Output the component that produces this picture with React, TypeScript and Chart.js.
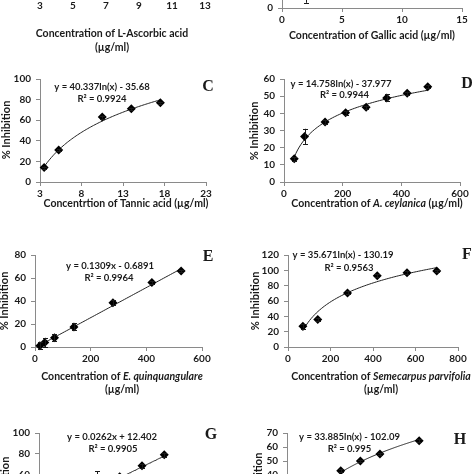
import React, { useEffect, useRef } from "react";
import { Chart, registerables } from "chart.js";

Chart.register(...registerables);

const SANS = "Lato, 'Noto Sans', sans-serif";
const SERIF = "'Liberation Serif', 'DejaVu Serif', serif";
const INK = "#1a1a1a";
const AXIS = "#8a8a8a";

// ---- A: L-ascorbic acid
const ascorbicXTicks = [3, 5, 7, 9, 11, 13];
const ascorbicYTicks = [0, 20, 40, 60, 80, 100];

// ---- B: Gallic acid
const gallicXTicks = [0, 5, 10, 15];
const gallicYTicks = [0, 20, 40, 60, 80, 100];
const gallicConc = [2];
const gallicInhib = [12];
const gallicErr = [7];

// ---- C: Tannic acid
const tannicXTicks = [3, 8, 13, 18, 23];
const tannicYTicks = [0, 20, 40, 60, 80, 100];
const tannicConc = [3.5, 5.25, 10.5, 14, 17.5];
const tannicInhib = [14, 31, 63, 71, 77];
const tannicErr = [1, 1, 1.5, 1, 1];
const tannicFit = { kind: "ln", a: 40.337, b: -35.68, r2: "0.9924" };

// ---- D: A. ceylanica
const ceylanicaXTicks = [0, 200, 400, 600];
const ceylanicaYTicks = [0, 10, 20, 30, 40, 50, 60];
const ceylanicaConc = [35, 70, 140, 210, 280, 350, 420, 490];
const ceylanicaInhib = [13.5, 26.5, 35, 40.3, 43.5, 49, 51.7, 55.5];
const ceylanicaErr = [1, 4.5, 1, 1, 1, 2, 1, 0.8];
const ceylanicaFit = { kind: "ln", a: 14.758, b: -37.977, r2: "0.9944" };

// ---- E: E. quinquangulare
const quinqXTicks = [0, 200, 400, 600];
const quinqYTicks = [0, 20, 40, 60, 80];
const quinqConc = [17.5, 35, 70, 140, 280, 420, 525];
const quinqInhib = [1, 4, 8, 17.5, 38.5, 56, 66];
const quinqErr = [3, 4, 3, 3, 2, 1, 1];
const quinqFit = { kind: "lin", a: 0.1309, b: -0.6891, r2: "0.9964" };

// ---- F: Semecarpus parvifolia
const semeXTicks = [0, 200, 400, 600, 800];
const semeYTicks = [0, 20, 40, 60, 80, 100, 120];
const semeConc = [70, 140, 280, 420, 560, 700];
const semeInhib = [27, 36, 70.5, 93, 97, 99];
const semeErr = [3, 2, 2, 2, 1.5, 1.5];
const semeFit = { kind: "ln", a: 35.671, b: -130.19, r2: "0.9563" };

// ---- G
const gXTicks = [500, 1500, 2500];
const gYTicks = [0, 20, 40, 60, 80, 100];
const gConc = [1300, 1700, 2100, 2500];
const gInhib = [48, 58, 68.5, 79];
const gErr = [15, 2, 2, 2];
const gFit = { kind: "lin", a: 0.0262, b: 12.402, r2: "0.9905" };

// ---- H
const hXTicks = [50, 100, 150];
const hYTicks = [0, 10, 20, 30, 40, 50, 60, 70];
const hConc = [70, 87.5, 105, 140];
const hInhib = [43, 50, 55, 64.5];
const hErr = [1, 1, 1, 1];
const hFit = { kind: "ln", a: 33.885, b: -102.09, r2: "0.995" };

type Fit = { kind: string; a: number; b: number; r2: string };
type Seg = { t: string; it?: boolean };
type Txt = { x: number; y: number; segs: Seg[]; style: "title" | "eq" | "letter" | "ytitle" };

interface Panel {
  id: string;
  area: [number, number, number, number]; // left, top, right, bottom (page px)
  xMin: number; xMax: number; xTicks: number[];
  yMin: number; yMax: number; yTicks: number[];
  conc?: number[]; inhib?: number[]; err?: number[];
  fit?: Fit;
  texts: Txt[];
}

const fmtTerm = (v: number) => (v < 0 ? ` - ${-v}` : ` + ${v}`);
const eqText = (f: Fit) =>
  f.kind === "ln" ? `y = ${f.a}ln(x)${fmtTerm(f.b)}` : `y = ${f.a}x${fmtTerm(f.b)}`;
const r2Text = (f: Fit) => `R² = ${f.r2}`;
const T = (x: number, y: number, style: Txt["style"], ...segs: Seg[]): Txt => ({ x, y, style, segs });
const s = (t: string, it = false): Seg => ({ t, it });

const UNIT = "(µg/ml)";
const YT = "% Inhibition";

const panels: Panel[] = [
  {
    id: "A", area: [40, -110, 205, -6],
    xMin: 3, xMax: 13, xTicks: ascorbicXTicks, yMin: 0, yMax: 100, yTicks: ascorbicYTicks,
    texts: [
      T(112, 34, "title", s("Concentration of L-Ascorbic acid")),
      T(112, 48, "title", s(UNIT)),
    ],
  },
  {
    id: "B", area: [282, -96, 462, 8],
    xMin: 0, xMax: 15, xTicks: gallicXTicks, yMin: 0, yMax: 100, yTicks: gallicYTicks,
    conc: gallicConc, inhib: gallicInhib, err: gallicErr,
    texts: [T(372, 36, "title", s("Concentration of Gallic acid " + UNIT))],
  },
  {
    id: "C", area: [40, 79, 206, 182],
    xMin: 3, xMax: 23, xTicks: tannicXTicks, yMin: 0, yMax: 100, yTicks: tannicYTicks,
    conc: tannicConc, inhib: tannicInhib, err: tannicErr, fit: tannicFit,
    texts: [
      T(126, 204, "title", s("Concentrtion of Tannic acid " + UNIT)),
      T(102, 87, "eq", s(eqText(tannicFit))),
      T(102, 99, "eq", s(r2Text(tannicFit))),
      T(208, 87, "letter", s("C")),
      T(6, 130, "ytitle", s(YT)),
    ],
  },
  {
    id: "D", area: [284, 79, 460, 182],
    xMin: 0, xMax: 600, xTicks: ceylanicaXTicks, yMin: 0, yMax: 60, yTicks: ceylanicaYTicks,
    conc: ceylanicaConc, inhib: ceylanicaInhib, err: ceylanicaErr, fit: ceylanicaFit,
    texts: [
      T(377, 204, "title", s("Concentration of "), s("A. ceylanica", true), s(" " + UNIT)),
      T(341, 84, "eq", s(eqText(ceylanicaFit))),
      T(344.5, 95, "eq", s(r2Text(ceylanicaFit))),
      T(467, 84, "letter", s("D")),
      T(254, 131, "ytitle", s(YT)),
    ],
  },
  {
    id: "E", area: [35, 255, 202, 347],
    xMin: 0, xMax: 600, xTicks: quinqXTicks, yMin: 0, yMax: 80, yTicks: quinqYTicks,
    conc: quinqConc, inhib: quinqInhib, err: quinqErr, fit: quinqFit,
    texts: [
      T(122, 377, "title", s("Concentration of "), s("E. quinquangulare", true)),
      T(122, 390, "title", s(UNIT)),
      T(110, 266, "eq", s(eqText(quinqFit))),
      T(109, 278, "eq", s(r2Text(quinqFit))),
      T(208, 257, "letter", s("E")),
      T(4, 301, "ytitle", s(YT)),
    ],
  },
  {
    id: "F", area: [288, 255, 458, 347],
    xMin: 0, xMax: 800, xTicks: semeXTicks, yMin: 0, yMax: 120, yTicks: semeYTicks,
    conc: semeConc, inhib: semeInhib, err: semeErr, fit: semeFit,
    texts: [
      T(381, 377, "title", s("Concentration of "), s("Semecarpus parvifolia", true)),
      T(381, 390, "title", s(UNIT)),
      T(343, 255, "eq", s(eqText(semeFit))),
      T(349, 268, "eq", s(r2Text(semeFit))),
      T(467, 255, "letter", s("F")),
      T(255, 301, "ytitle", s(YT)),
    ],
  },
  {
    id: "G", area: [39, 433, 206, 537],
    xMin: 250, xMax: 3250, xTicks: gXTicks, yMin: 0, yMax: 100, yTicks: gYTicks,
    conc: gConc, inhib: gInhib, err: gErr, fit: gFit,
    texts: [
      T(112, 437, "eq", s(eqText(gFit))),
      T(113, 449, "eq", s(r2Text(gFit))),
      T(211, 435, "letter", s("G")),
      T(5, 486, "ytitle", s(YT)),
    ],
  },
  {
    id: "H", area: [287, 433, 455, 531],
    xMin: 22, xMax: 172, xTicks: hXTicks, yMin: 0, yMax: 70, yTicks: hYTicks,
    conc: hConc, inhib: hInhib, err: hErr, fit: hFit,
    texts: [
      T(349.5, 437, "eq", s(eqText(hFit))),
      T(349.5, 449, "eq", s(r2Text(hFit))),
      T(460, 440, "letter", s("H")),
      T(258, 482, "ytitle", s(YT)),
    ],
  },
];

// Canvas margin around each plot area, and fixed axis box sizes
const M = { l: 60, t: 40, r: 40, b: 80 };
const YW = 45;
const XH = 24;

function fontFor(style: Txt["style"], italic: boolean) {
  const it = italic ? "italic " : "";
  switch (style) {
    case "title": return `${it}bold 10.5px ${SANS}`;
    case "eq": return `${it}bold 9.5px ${SANS}`;
    case "letter": return `${it}bold 16px ${SERIF}`;
    default: return `${it}bold 11px ${SANS}`;
  }
}

function fitCurve(f: Fit, xs: number[]) {
  const lo = Math.min(...xs);
  const hi = Math.max(...xs);
  const n = 80;
  const pts: { x: number; y: number }[] = [];
  for (let i = 0; i <= n; i++) {
    const x = lo + ((hi - lo) * i) / n;
    pts.push({ x, y: f.kind === "ln" ? f.a * Math.log(x) + f.b : f.a * x + f.b });
  }
  return pts;
}

function overlay(panel: Panel, ox: number, oy: number) {
  return {
    id: "overlay" + panel.id,
    afterDatasetsDraw(chart: any) {
      const { ctx, scales } = chart;
      if (!panel.conc || !panel.err || !panel.inhib) return;
      ctx.save();
      ctx.strokeStyle = INK;
      ctx.lineWidth = 1;
      panel.conc.forEach((c, i) => {
        const e = panel.err![i];
        const v = panel.inhib![i];
        const px = Math.round(scales.x.getPixelForValue(c)) + 0.5;
        const y1 = scales.y.getPixelForValue(v + e);
        const y2 = scales.y.getPixelForValue(v - e);
        ctx.beginPath();
        ctx.moveTo(px, y1);
        ctx.lineTo(px, y2);
        ctx.moveTo(px - 2.5, Math.round(y1) + 0.5);
        ctx.lineTo(px + 2.5, Math.round(y1) + 0.5);
        ctx.moveTo(px - 2.5, Math.round(y2) + 0.5);
        ctx.lineTo(px + 2.5, Math.round(y2) + 0.5);
        ctx.stroke();
      });
      ctx.restore();
    },
    afterDraw(chart: any) {
      const ctx: CanvasRenderingContext2D = chart.ctx;
      ctx.save();
      ctx.fillStyle = INK;
      ctx.textBaseline = "middle";
      ctx.textAlign = "left";
      for (const t of panel.texts) {
        const widths = t.segs.map((g) => {
          ctx.font = fontFor(t.style, !!g.it);
          return ctx.measureText(g.t).width;
        });
        const total = widths.reduce((a, b) => a + b, 0);
        ctx.save();
        ctx.translate(t.x - ox, t.y - oy);
        if (t.style === "ytitle") ctx.rotate(-Math.PI / 2);
        let x = -total / 2;
        t.segs.forEach((g, i) => {
          ctx.font = fontFor(t.style, !!g.it);
          ctx.fillText(g.t, x, 0);
          x += widths[i];
        });
        ctx.restore();
      }
      ctx.restore();
    },
  };
}

function axis(min: number, max: number, ticks: number[], horizontal: boolean) {
  return {
    type: "linear" as const,
    min,
    max,
    afterBuildTicks: (sc: any) => {
      sc.ticks = ticks.map((v) => ({ value: v }));
    },
    afterFit: (sc: any) => {
      if (horizontal) sc.height = XH;
      else sc.width = YW;
    },
    grid: { display: true, drawOnChartArea: false, drawTicks: true, tickLength: 4, color: AXIS, lineWidth: 1 },
    border: { display: true, color: AXIS, width: 1 },
    ticks: {
      color: INK,
      font: { family: SANS, size: 10, weight: "bold" as const },
      padding: horizontal ? 2 : 5,
      maxRotation: 0,
      autoSkip: false,
    },
  };
}

function PanelChart({ panel }: { panel: Panel }) {
  const ref = useRef<HTMLCanvasElement>(null);
  const [l, t, r, b] = panel.area;
  const left = l - M.l;
  const top = t - M.t;
  const w = r - l + M.l + M.r;
  const h = b - t + M.t + M.b;

  useEffect(() => {
    const datasets: any[] = [];
    if (panel.conc && panel.inhib) {
      datasets.push({
        type: "scatter",
        data: panel.conc.map((c, i) => ({ x: c, y: panel.inhib![i] })),
        pointStyle: "rectRot",
        pointRadius: 4.5,
        backgroundColor: "#000",
        borderColor: "#000",
        borderWidth: 0,
        order: 0,
        clip: false,
      });
      if (panel.fit) {
        datasets.push({
          type: "line",
          data: fitCurve(panel.fit, panel.conc),
          borderColor: "#222",
          borderWidth: 1,
          pointRadius: 0,
          tension: 0,
          order: 1,
          clip: false,
        });
      }
    }
    const chart = new Chart(ref.current!, {
      type: "scatter",
      data: { datasets },
      options: {
        responsive: false,
        animation: false,
        events: [],
        layout: { padding: { left: M.l - YW, top: M.t, right: M.r, bottom: M.b - XH } },
        plugins: { legend: { display: false }, tooltip: { enabled: false } },
        scales: {
          x: axis(panel.xMin, panel.xMax, panel.xTicks, true),
          y: axis(panel.yMin, panel.yMax, panel.yTicks, false),
        },
      },
      plugins: [overlay(panel, left, top)],
    } as any);
    return () => chart.destroy();
  }, []);

  return (
    <div style={{ position: "absolute", left, top, width: w, height: h }}>
      <canvas ref={ref} width={w} height={h} style={{ width: w, height: h, display: "block" }} />
    </div>
  );
}

export default function App() {
  return (
    <div
      style={{
        position: "absolute",
        left: 0,
        top: 0,
        width: 474,
        height: 474,
        overflow: "hidden",
        background: "#fff",
      }}
    >
      {panels.map((p) => (
        <PanelChart key={p.id} panel={p} />
      ))}
    </div>
  );
}
